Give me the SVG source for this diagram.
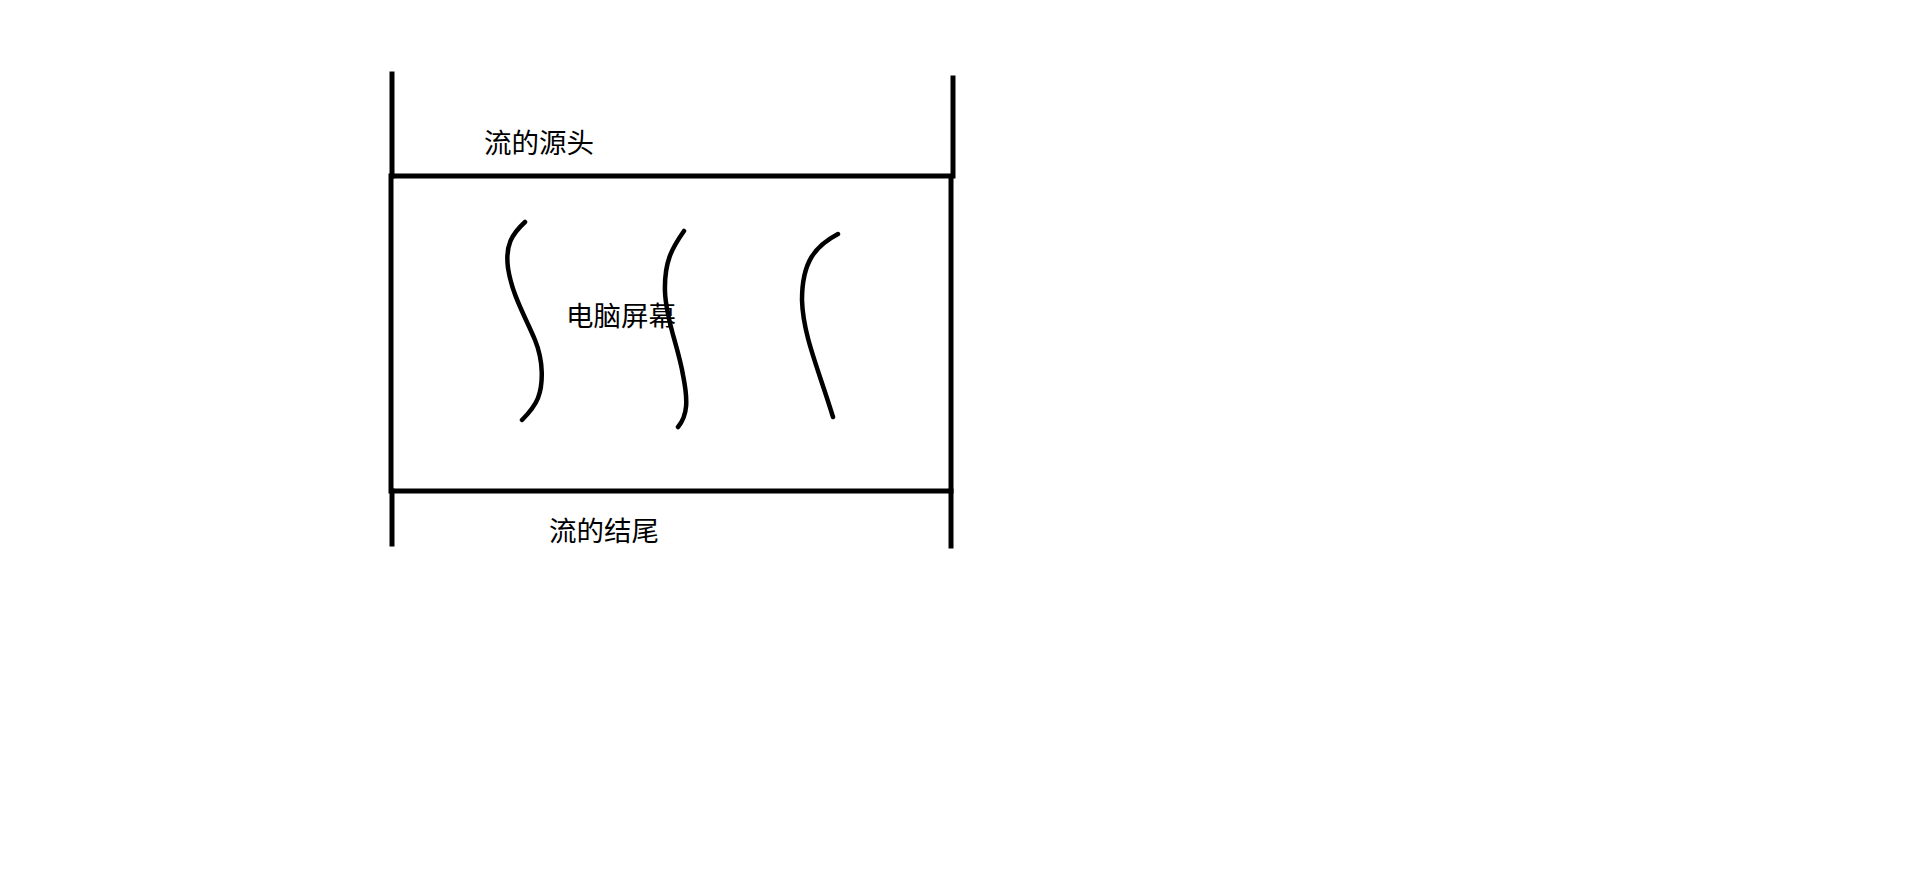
<svg xmlns="http://www.w3.org/2000/svg" width="1911" height="870" viewBox="0 0 1911 870">
<style>
.ln{stroke:#000;stroke-width:5;fill:none;stroke-linecap:square}
.cv{stroke:#000;stroke-width:4.5;fill:none;stroke-linecap:round}
.lbl{font-family:"Noto Sans CJK SC","Liberation Sans",sans-serif;font-size:27.5px;fill:#000}
</style>
<rect width="1911" height="870" fill="#fff"/>
<g id="connectors">
<line class="ln" x1="392" y1="74" x2="392" y2="176"/>
<line class="ln" x1="953" y1="78" x2="953" y2="176"/>
<line class="ln" x1="392" y1="491" x2="392" y2="544"/>
<line class="ln" x1="951" y1="491" x2="951" y2="546"/>
</g>
<g id="screen">
<rect class="ln" x="391" y="176" width="560" height="315"/>
<text class="lbl" x="566" y="326">电脑屏幕</text>
</g>
<g id="source">
<text class="lbl" x="484" y="153">流的源头</text>
</g>
<g id="end">
<text class="lbl" x="549" y="541">流的结尾</text>
</g>
<g id="waves">
<path class="cv" d="M525,222 C512,234 505,245 508,268 C512,295 526,318 535,340 C544,362 543,385 538,398 C534,408 528,414 522,420"/>
<path class="cv" d="M684,231 C672,248 664,262 665,292 C666,320 678,346 683,375 C688,400 688,415 678,427"/>
<path class="cv" d="M838,234 C815,246 802,262 802,300 C803,335 818,368 833,417"/>
</g>
</svg>
